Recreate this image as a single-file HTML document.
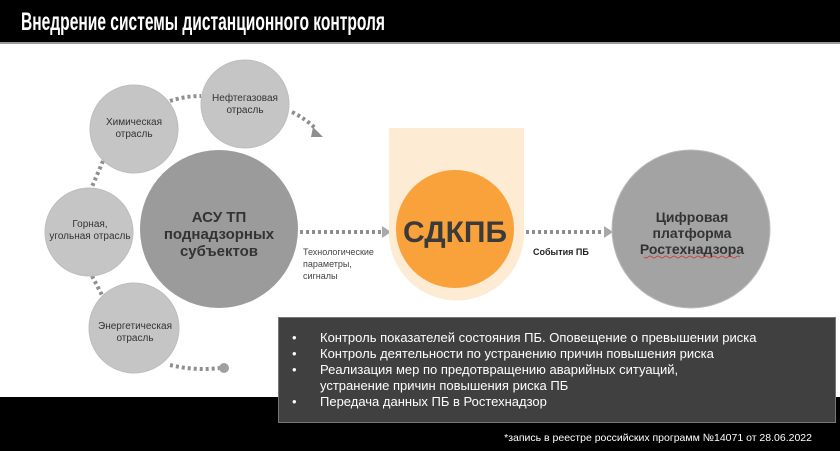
<!DOCTYPE html>
<html><head><meta charset="utf-8"><style>
html,body{margin:0;padding:0;background:#fff}
svg{display:block}
text{font-family:"Liberation Sans",sans-serif}
</style></head><body>
<svg width="840" height="451" viewBox="0 0 840 451" xmlns="http://www.w3.org/2000/svg">
<rect x="0" y="0" width="840" height="42" fill="#000"/>
<rect x="0" y="42" width="840" height="2" fill="#9a9a9a"/>
<text x="21" y="30" font-size="25" font-weight="bold" fill="#fff" textLength="364" lengthAdjust="spacingAndGlyphs">Внедрение системы дистанционного контроля</text>
<rect x="0" y="44" width="840" height="353" fill="#fff"/>
<rect x="0" y="397" width="840" height="54" fill="#000"/>

<g stroke="#8f8f8f" stroke-width="4" stroke-dasharray="3 3" fill="none">
<path d="M170 101 Q185 96 201 96"/>
<path d="M292 112 Q306 119 316 129"/>
<path d="M103 161 L91 189"/>
<path d="M92 276 L103 297"/>
<path d="M170 365 Q195 371 220 368"/>
<path d="M300 232 L382 232"/>
<path d="M526 232 L605 232"/>
</g>
<polygon points="313,127 323,137 311,137" fill="#8f8f8f"/>
<polygon points="382,226 391,232 382,238" fill="#a8a8a8"/>
<polygon points="604,226 613,232 604,238" fill="#a8a8a8"/>
<circle cx="224" cy="368" r="5" fill="#a0a0a0"/>

<g fill="#c5c5c5" stroke="#bdbdbd">
<circle cx="245" cy="104" r="44"/>
<circle cx="134" cy="129" r="44"/>
<circle cx="89" cy="232" r="44"/>
<circle cx="134" cy="328" r="45"/>
</g>
<g font-size="10" fill="#333" text-anchor="middle">
<text x="245" y="101">Нефтегазовая</text><text x="245" y="113">отрасль</text>
<text x="134" y="125">Химическая</text><text x="134" y="137">отрасль</text>
<text x="90" y="227">Горная,</text>
<text x="90" y="239">угольная отрасль</text>
<text x="135" y="329">Энергетическая</text><text x="135" y="341">отрасль</text>
</g>

<circle cx="219" cy="229" r="79" fill="#9b9b9b"/>
<g font-size="15" font-weight="bold" fill="#333" text-anchor="middle">
<text x="219" y="222">АСУ ТП</text>
<text x="219" y="239">поднадзорных</text>
<text x="219" y="256">субъектов</text>
</g>
<g font-size="9" fill="#444">
<text x="303" y="255">Технологические</text>
<text x="303" y="267">параметры,</text>
<text x="303" y="279">сигналы</text>
</g>

<path d="M389 128 H524 V233 A67.5 67.5 0 0 1 389 233 Z" fill="#fdebd3"/>
<circle cx="455" cy="229" r="59" fill="#f9a23b"/>
<text x="455" y="242" font-size="30" font-weight="bold" fill="#3a3a3a" text-anchor="middle">СДКПБ</text>
<text x="533" y="255" font-size="9" font-weight="bold" fill="#222">События ПБ</text>

<circle cx="691" cy="229" r="79" fill="#a3a3a3" stroke="#bbb"/>
<g font-size="14" font-weight="bold" fill="#333" text-anchor="middle">
<text x="692" y="222">Цифровая</text>
<text x="692" y="238">платформа</text>
<text x="692" y="254">Ростехнадзора</text>
</g>
<path d="M644 257 q2 2 4 0 t4 0 t4 0 t4 0 t4 0 t4 0 t4 0 t4 0 t4 0 t4 0 t4 0 t4 0 t4 0 t4 0 t4 0 t4 0 t4 0 t4 0 t4 0 t4 0 t4 0 t4 0 t4 0 t4 0" stroke="#c33" stroke-width="0.8" fill="none"/>

<rect x="278.5" y="317.5" width="557" height="105" fill="#404040" stroke="#777"/>
<g font-size="13" fill="#fff">
<text x="292" y="342">•</text><text x="320" y="342">Контроль показателей состояния ПБ. Оповещение о превышении риска</text>
<text x="292" y="358">•</text><text x="320" y="358">Контроль деятельности по устранению причин повышения риска</text>
<text x="292" y="374">•</text><text x="320" y="374">Реализация мер по предотвращению аварийных ситуаций,</text>
<text x="320" y="390">устранение причин повышения риска ПБ</text>
<text x="292" y="406">•</text><text x="320" y="406">Передача данных ПБ в Ростехнадзор</text>
</g>
<text x="812" y="441" font-size="10.5" fill="#fff" text-anchor="end">*запись в реестре российских программ №14071 от 28.06.2022</text>
</svg>
</body></html>
